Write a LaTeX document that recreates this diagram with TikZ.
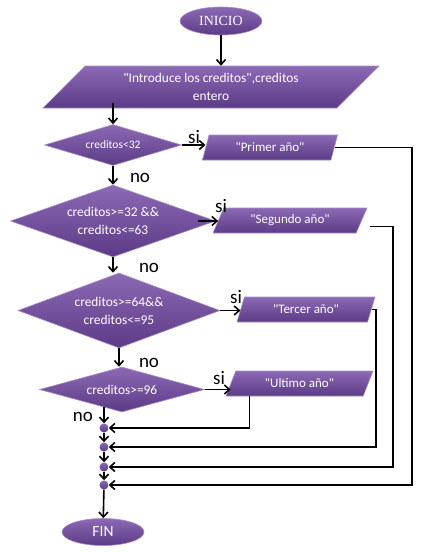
\documentclass[tikz,border=0pt]{standalone}
\usepackage{fontspec}
\setmainfont{Carlito}[Ligatures=TeXOff]
\newfontfamily\inifont{Liberation Serif}
\usetikzlibrary{shapes.geometric,arrows.meta,calc,positioning}
\definecolor{flowtop}{HTML}{8C69B5}
\definecolor{flowbot}{HTML}{5C3B86}
\definecolor{flowedge}{HTML}{A68DC8}
\tikzset{
  flow/.style={top color=flowtop, bottom color=flowbot, draw=flowedge, line width=0.6pt,
    text=white, inner sep=0pt, align=center, font=\fontsize{13.4}{18}\selectfont},
  term/.style={flow, ellipse},
  io/.style={flow, trapezium, trapezium stretches body,
    trapezium left angle=#1, trapezium right angle=180-#1},
  decision/.style={flow, diamond},
  junction/.style={circle, top color=flowtop, bottom color=flowbot, minimum size=9pt, inner sep=0pt},
  arrow/.style={line width=1.6pt, -{Straight Barb[length=5pt,width=9pt]}},
  answer/.style={anchor=base, inner sep=0pt, font=\fontsize{19}{19}\selectfont}
}

\begin{document}
\begin{tikzpicture}[x=1pt, y=-1pt]
    \useasboundingbox (0,0) rectangle (438,552);

    % Start and input
    \node[term, minimum width=82pt, minimum height=28pt, font=\inifont\fontsize{14}{14}\selectfont] (inicio) at (221,21) {INICIO};
    \node[io=33, minimum width=336pt, minimum height=42pt] (entrada) at (211,87) {"Introduce los creditos",creditos\\entero};

    % Decisions
    \node[decision, aspect=3.34, minimum width=137pt, minimum height=41pt, font=\fontsize{11.5}{14}\selectfont] (cond1) at (113,145) {creditos<32};
    \node[decision, aspect=2.85, minimum width=205pt, minimum height=72pt] (cond2) at (113,221) {creditos>=32 \&\&\\creditos<=63};
    \node[decision, aspect=2.7, minimum width=202pt, minimum height=75pt] (cond3) at (119,310.5) {creditos>=64\&\&\\creditos<=95};
    \node[decision, aspect=3.67, minimum width=165pt, minimum height=45pt] (cond4) at (122,389.5) {creditos>=96};

    % Outputs
    \node[io=54, minimum width=135pt, minimum height=25pt, font=\fontsize{13}{13}\selectfont] (anio1) at (270,147.5) {"Primer año"};
    \node[io=46, minimum width=154pt, minimum height=25pt, font=\fontsize{13}{13}\selectfont] (anio2) at (290,220.5) {"Segundo año"};
    \node[io=50, minimum width=138pt, minimum height=25pt, font=\fontsize{13}{13}\selectfont] (anio3) at (306,309.5) {"Tercer año"};
    \node[io=43, minimum width=147pt, minimum height=25pt, font=\fontsize{13}{13}\selectfont] (anio4) at (299.5,383.5) {"Ultimo año"};

    % Joins and end
    \node[junction] (j1) at (104,428) {};
    \node[junction] (j2) at (104,447) {};
    \node[junction] (j3) at (104,467) {};
    \node[junction] (j4) at (104,485) {};
    \node[term, minimum width=82pt, minimum height=27pt, font=\fontsize{15.5}{15.5}\selectfont] (fin) at (103,532) {FIN};

    \coordinate (ret1) at (412,0);
    \coordinate (ret2) at (393,0);
    \coordinate (ret3) at (376,0);

    % Main line
    \draw[arrow] (inicio.south) -- (inicio.south |- entrada.north);
    \draw[arrow] ($(cond1.north |- entrada.south)+(0,-5)$) -- (cond1.north);
    \draw[arrow] (cond1.south) -- (cond2.north);
    \draw[arrow] (cond2.south) -- (cond2.south |- cond3.north);
    \draw[arrow] (cond3.south) -- (cond3.south |- cond4.north);
    \draw[arrow] ($(j1 |- cond4.south)+(0,-5)$) -- (j1);
    \draw[arrow] (j1) -- (j2);
    \draw[arrow] (j2) -- (j3);
    \draw[arrow] (j3) -- (j4);
    \draw[arrow] (j4) -- (fin);

    % Yes branches
    \draw[arrow] (cond1.east) -- (cond1.east -| anio1.west);
    \draw[arrow] ($(cond2.east)+(-18,0)$) -- (cond2.east -| anio2.west);
    \draw[arrow] (cond3.east) -- (cond3.east -| anio3.west);
    \draw[arrow] (cond4.east) -- (cond4.east -| anio4.west);

    % Returns
    \draw[arrow] (anio1.east) -| (ret1 |- j4) -- (j4);
    \draw[arrow] ($(anio2.east)+(8,6)$) -| (ret2 |- j3) -- (j3);
    \draw[arrow] (anio3.east) -| (ret3 |- j2) -- (j2);
    \draw[arrow] ($(anio4.bottom left corner)+(24,0)$) |- (j1);

    % Labels
    \node[answer] (si1) at (194,143) {si};
    \node[answer] (si2) at (221,212) {si};
    \node[answer] (si3) at (236,303) {si};
    \node[answer] (si4) at (219,384) {si};
    \node[answer] (no1) at (140,182) {no};
    \node[answer] (no2) at (149,272) {no};
    \node[answer] (no3) at (149,367) {no};
    \node[answer] (no4) at (83,421) {no};
\end{tikzpicture}
\end{document}
